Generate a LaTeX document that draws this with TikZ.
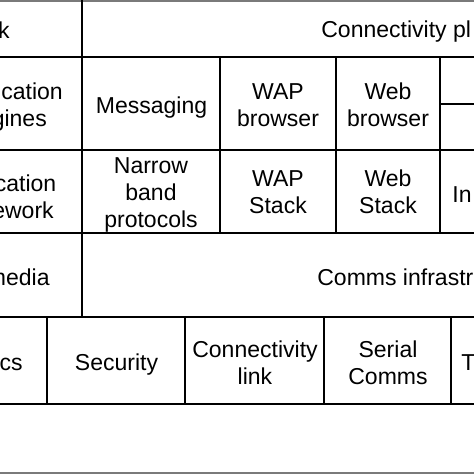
\documentclass[tikz,border=0pt]{standalone}
\usepackage{fontspec}
\setmainfont{Liberation Sans}
\usepackage{xcolor}
\definecolor{rim}{HTML}{7A7A7A}
\tikzset{
  tabline/.style={draw=black,line width=.75pt},
  rimband/.style={fill=rim},
  cell/.style={align=center,inner sep=0pt,font=\fontsize{13.1}{15.3}\selectfont}
}
\begin{document}
\begin{tikzpicture}[x=0.02cm,y=-0.02cm]
  \useasboundingbox (0,0) rectangle (474,474);
  \clip (0,0) rectangle (474,474);
  % frame bands
  \fill[rimband] (0,0) rectangle (474,2);
  \fill[rimband] (0,472) rectangle (474,474);
  % rows
  \foreach \y in {57,150,233,317,404} \draw[tabline] (0,\y)--(474,\y);
  \draw[tabline] (440,104)--(474,104);
  % columns
  \draw[tabline] (82,0)--(82,317);
  \foreach \x in {220,336,440} \draw[tabline] (\x,57)--(\x,233);
  \foreach \x in {47,185,324,451} \draw[tabline] (\x,317)--(\x,404);
  % labels (base = last line)
  \node[cell,anchor=base east] (top) at (10,38) {k};
  \node[cell,anchor=base west] (connpl) at (321,37.5) {Connectivity pl};
  \node[cell,anchor=base] (appeng) at (6.5,126.5) {Application\\engines};
  \node[cell,anchor=base] (msg) at (151.5,113) {Messaging};
  \node[cell,anchor=base] (wapbr) at (278,126) {WAP\\browser};
  \node[cell,anchor=base] (webbr) at (388,126) {Web\\browser};
  \node[cell,anchor=base] (appfw) at (0,218) {Application\\framework};
  \node[cell,anchor=base] (narrow) at (151,227) {Narrow\\band\\protocols};
  \node[cell,anchor=base] (wapst) at (278,213.5) {WAP\\Stack};
  \node[cell,anchor=base] (webst) at (388,213.5) {Web\\Stack};
  \node[cell,anchor=base west] (infra) at (452,202) {In};
  \node[cell,anchor=base east] (media) at (50,285) {media};
  \node[cell,anchor=base west] (comms) at (317,285) {Comms infrastr};
  \node[cell,anchor=base east] (cs) at (23,370) {cs};
  \node[cell,anchor=base] (secur) at (116.5,370) {Security};
  \node[cell,anchor=base] (connlink) at (255,384) {Connectivity\\link};
  \node[cell,anchor=base] (serial) at (388,384) {Serial\\Comms};
  \node[cell,anchor=base west] (tcell) at (461,370) {T};
\end{tikzpicture}
\end{document}
